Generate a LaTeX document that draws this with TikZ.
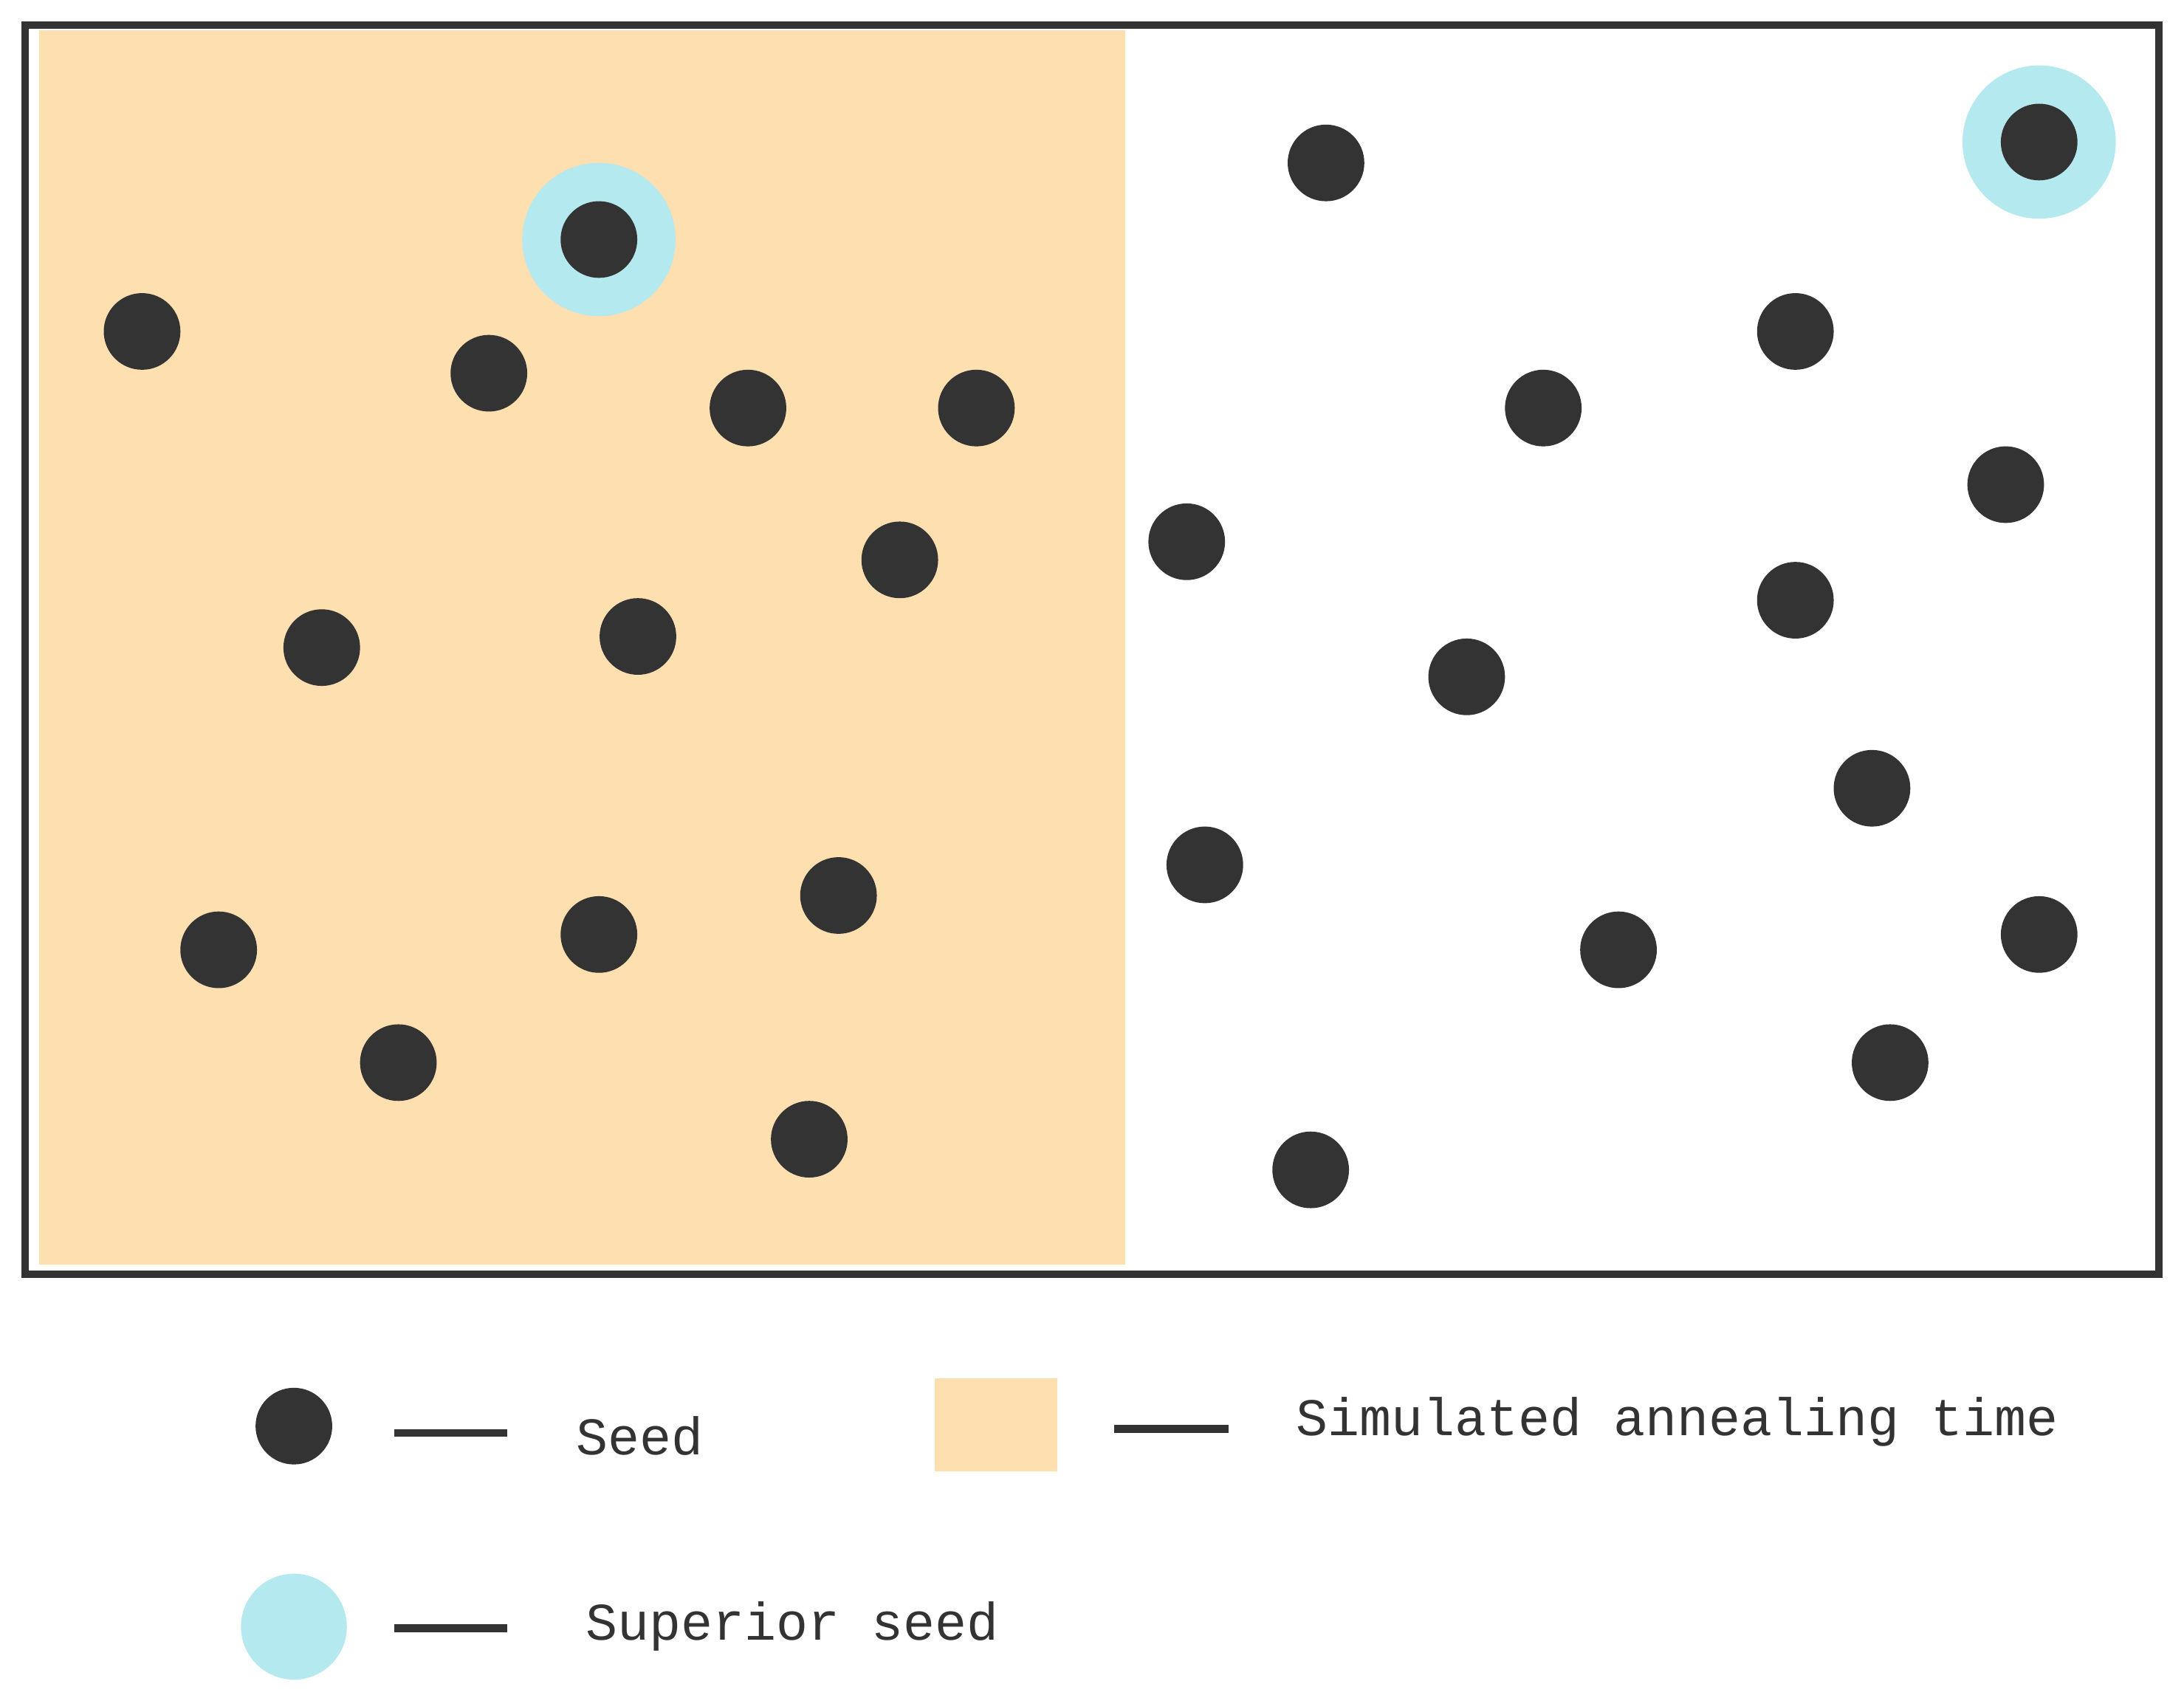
\documentclass[tikz,border=0pt]{standalone}
\usepackage{fontspec}
\setmonofont{Liberation Mono}
\definecolor{sand}{HTML}{FDDFB0}
\definecolor{cyanring}{HTML}{B3E9EF}
\definecolor{dark}{HTML}{333333}
\begin{document}
\begin{tikzpicture}[x=0.01cm,y=-0.01cm,
  seed/.style={circle,fill=dark,inner sep=0,minimum size=0.55cm},
  sup/.style={circle,fill=cyanring,inner sep=0,minimum size=1.1cm},
  leg/.style={line width=1.6pt,draw=dark},
  lab/.style={font=\ttfamily\fontsize{10.8}{12}\selectfont,text=dark,anchor=west,inner sep=0}]
\useasboundingbox (0,0) rectangle (1568,1219);
\fill[sand] (28,22) rectangle (808,908);
\draw[line width=1.5pt,draw=dark] (18,18) rectangle (1550,915);
\node[sup] (s1) at (430,172) {};
\node[sup] (s2) at (1464,102) {};
\foreach \p [count=\i] in {(430,172),(102,238),(351,268),(537,293),(701,293),(646,402),(231,465),(458,457),(157,682),(430,671),(602,643),(286,763),(581,818),
(952,117),(1464,102),(1289,238),(1108,293),(1440,348),(852,389),(1289,431),(1053,486),(1344,566),(865,621),(1162,682),(1464,671),(1357,763),(941,840)}
  \node[seed] (d\i) at \p {};
% legend
\node[seed] (ls) at (211,1024) {};
\coordinate (a1) at (283,1029); \coordinate (a2) at (364,1029);
\draw[leg] (a1) -- (a2);
\node[lab] (t1) at (413,1031) {Seed};
\node[fill=sand,minimum width=0.88cm,minimum height=0.67cm,inner sep=0] (lo) at (715,1023) {};
\coordinate (b1) at (800,1026); \coordinate (b2) at (882,1026);
\draw[leg] (b1) -- (b2);
\node[lab] (t2) at (930,1021) {Simulated annealing time};
\node[circle,fill=cyanring,minimum size=0.76cm,inner sep=0] (lc) at (211,1168) {};
\coordinate (c1) at (283,1169); \coordinate (c2) at (364,1169);
\draw[leg] (c1) -- (c2);
\node[lab] (t3) at (420,1168) {Superior seed};
\end{tikzpicture}
\end{document}
